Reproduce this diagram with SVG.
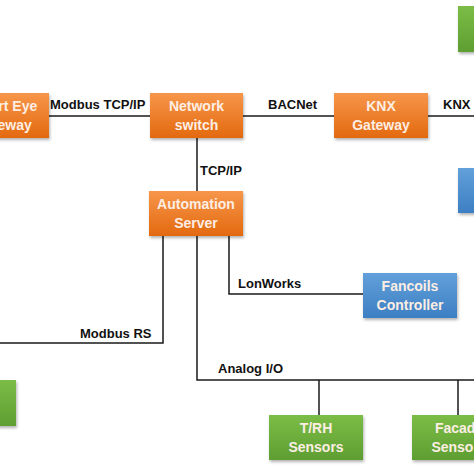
<svg xmlns="http://www.w3.org/2000/svg" width="474" height="474" viewBox="0 0 474 474">
<defs>
<linearGradient id="gOr" x1="0" y1="0" x2="0" y2="1"><stop offset="0" stop-color="#f7964a"/><stop offset="1" stop-color="#e3690f"/></linearGradient>
<linearGradient id="gGr" x1="0" y1="0" x2="0" y2="1"><stop offset="0" stop-color="#7bbd46"/><stop offset="1" stop-color="#5e9e32"/></linearGradient>
<linearGradient id="gBl" x1="0" y1="0" x2="0" y2="1"><stop offset="0" stop-color="#62a0da"/><stop offset="1" stop-color="#3d7fc3"/></linearGradient>
<filter id="sh" x="-10%" y="-10%" width="130%" height="140%"><feDropShadow dx="1" dy="2" stdDeviation="1.5" flood-color="#000" flood-opacity="0.3"/></filter>
</defs>
<style>
.n rect{filter:url(#sh)}
.or rect{fill:url(#gOr)}
.gr rect{fill:url(#gGr)}
.bl rect{fill:url(#gBl)}
.n text{font-family:"Liberation Sans",Arial,sans-serif;font-weight:bold;font-size:14px;fill:#fdeee4;text-anchor:middle}
.c path{fill:none;stroke:#1a1a1a;stroke-width:1.5}
.lbl{font-family:"Liberation Sans",Arial,sans-serif;font-weight:bold;font-size:13px;fill:#111}
</style>
<rect width="474" height="474" fill="#fff"/>
<g class="c" id="connectors">
<path d="M49 116H150"/>
<path d="M243 116H334"/>
<path d="M428 116H474"/>
<path d="M197 138V191"/>
<path d="M163 236V343H0"/>
<path d="M229 236V294H363"/>
<path d="M197 236V380H474"/>
<path d="M319 380V415"/>
<path d="M458 380V415"/>
</g>
<g class="lbl">
<text x="50" y="109">Modbus TCP/IP</text>
<text x="268" y="109">BACNet</text>
<text x="443" y="109">KNX</text>
<text x="200" y="175">TCP/IP</text>
<text x="238" y="288">LonWorks</text>
<text x="80" y="338">Modbus RS</text>
<text x="218" y="373">Analog I/O</text>
</g>
<g id="smart-eye" class="n or"><rect x="-44" y="93" width="93" height="45"/><text x="3" y="111">Smart Eye</text><text x="3" y="130">Gateway</text></g>
<g id="network-switch" class="n or"><rect x="150" y="93" width="93" height="45"/><text x="196.5" y="111">Network</text><text x="196.5" y="130">switch</text></g>
<g id="knx-gateway" class="n or"><rect x="334" y="93" width="94" height="45"/><text x="381" y="111">KNX</text><text x="381" y="130">Gateway</text></g>
<g id="automation-server" class="n or"><rect x="149" y="191" width="94" height="45"/><text x="196" y="209">Automation</text><text x="196" y="228">Server</text></g>
<g id="fancoils" class="n bl"><rect x="363" y="273" width="94" height="45"/><text x="410" y="291">Fancoils</text><text x="410" y="310">Controller</text></g>
<g id="trh-sensors" class="n gr"><rect x="269" y="415" width="94" height="45"/><text x="316" y="433">T/RH</text><text x="316" y="452">Sensors</text></g>
<g id="facade-sensors" class="n gr"><rect x="412" y="415" width="94" height="45"/><text x="459" y="433">Facade</text><text x="459" y="452">Sensors</text></g>
<g id="top-right" class="n gr"><rect x="458" y="6" width="94" height="46"/></g>
<g id="right-blue" class="n bl"><rect x="458" y="168" width="94" height="45"/></g>
<g id="left-green" class="n gr"><rect x="-78" y="380" width="94" height="46"/></g>
</svg>
